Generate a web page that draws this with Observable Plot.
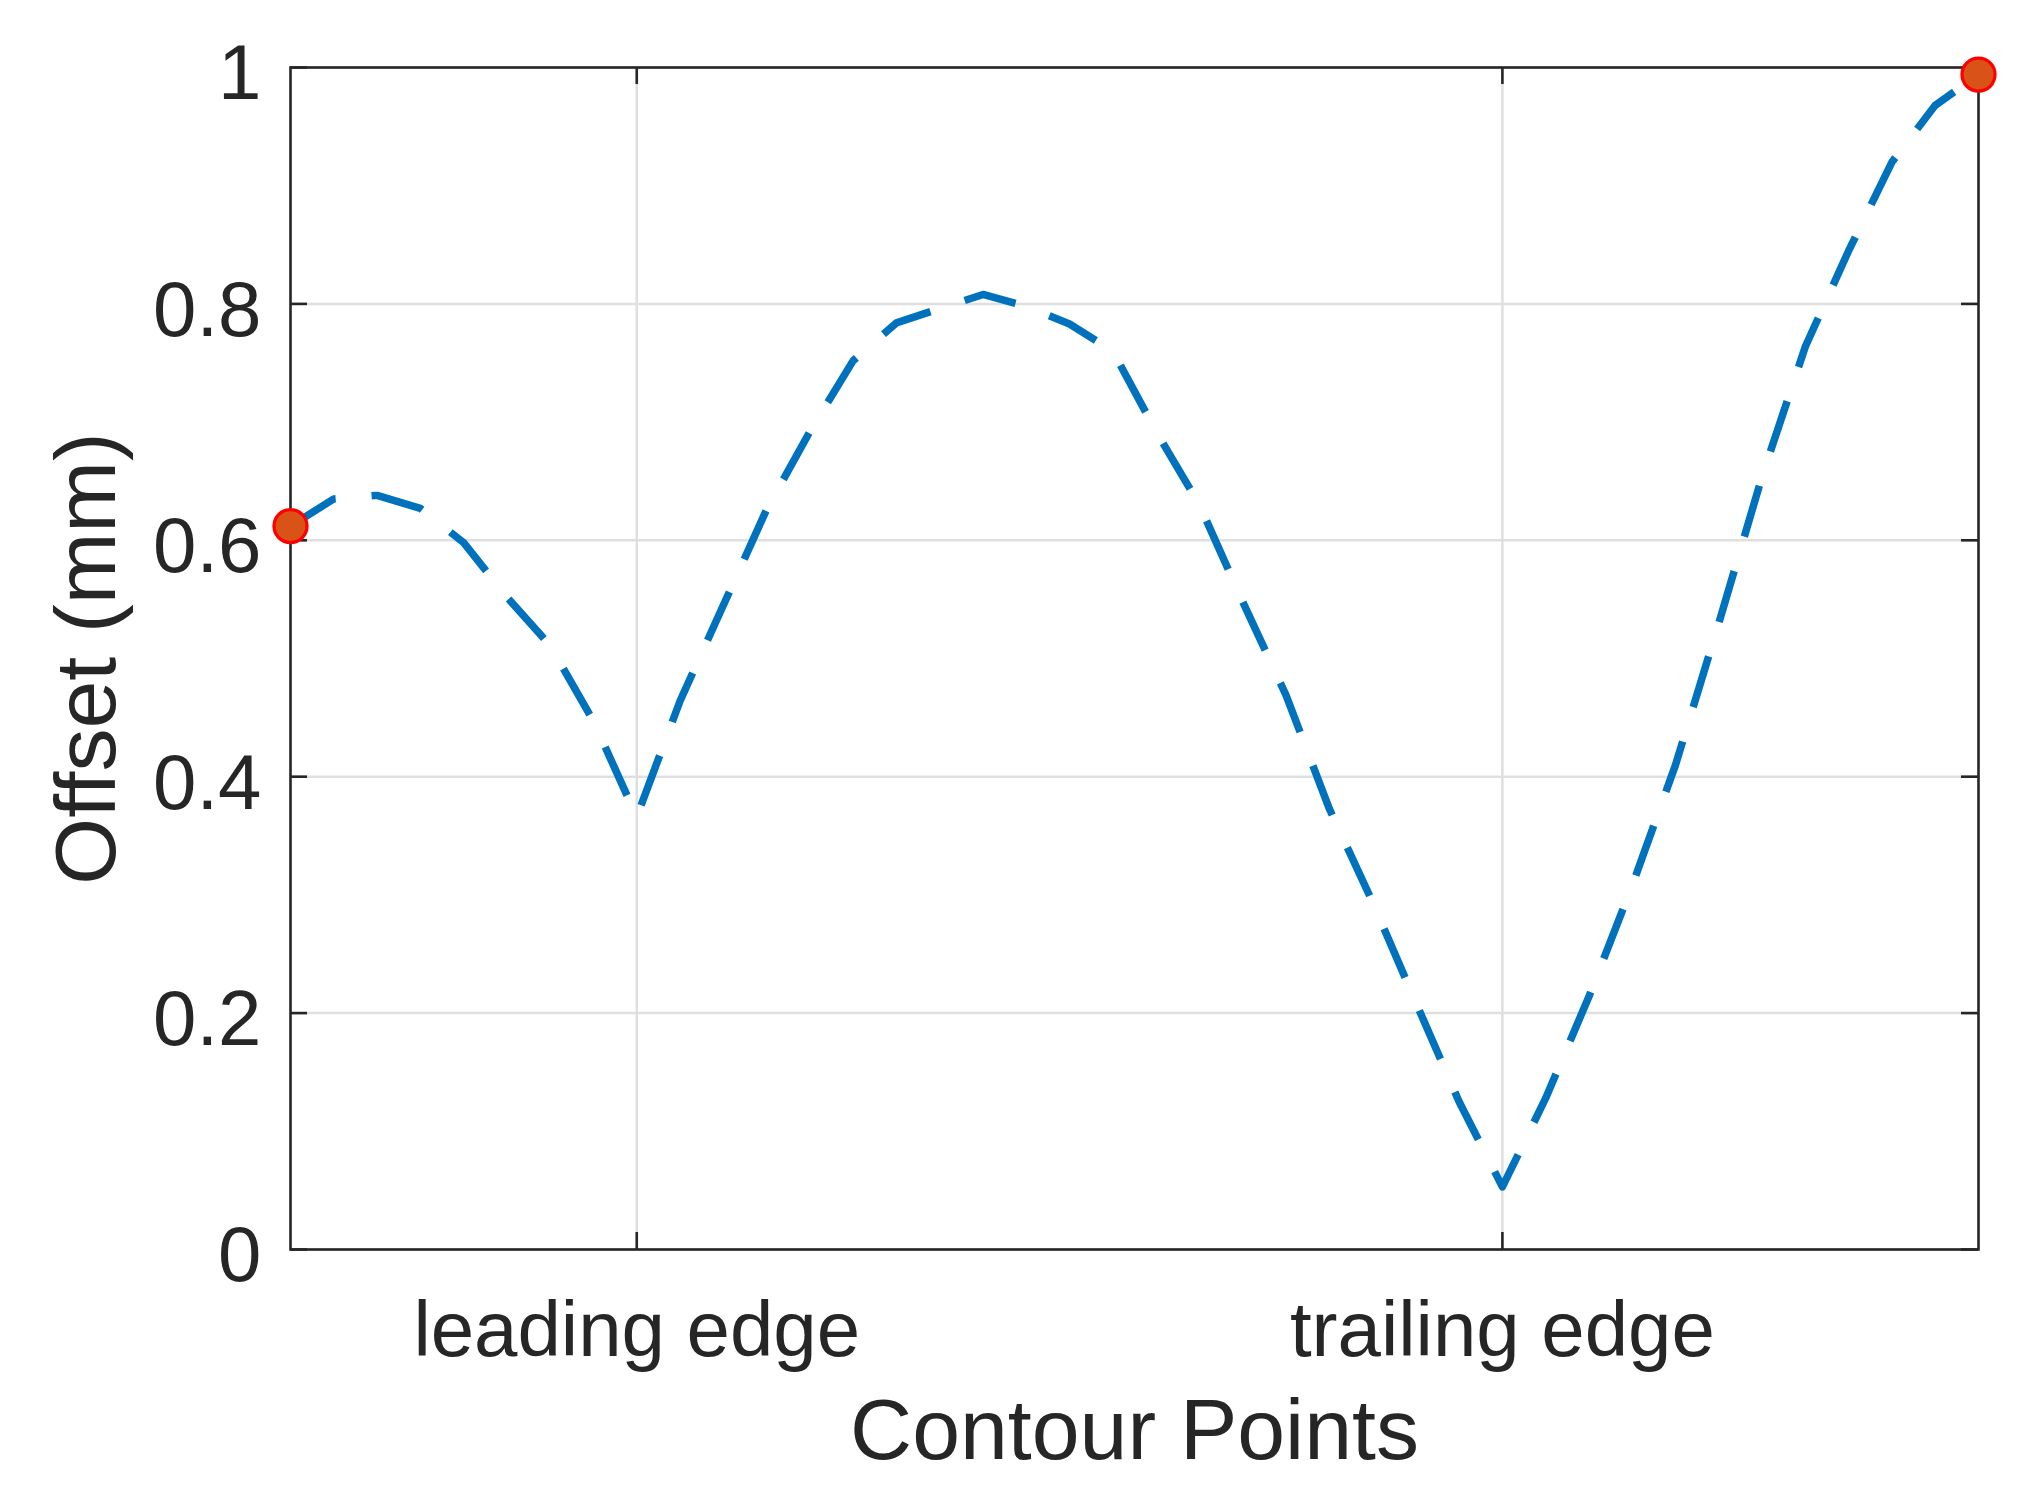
<!DOCTYPE html>
<html>
<head>
<meta charset="utf-8">
<script src="https://cdn.jsdelivr.net/npm/d3@7"></script>
<script src="https://cdn.jsdelivr.net/npm/@observablehq/plot@0.6"></script>
<style>
  html, body { margin: 0; padding: 0; background: #ffffff; overflow: hidden; }
  #chart svg { display: block; }
</style>
</head>
<body>
<div id="chart"></div>
<script>
// ---- data ----
const pointIndex = [1, 2, 3, 4, 5, 6, 7, 8, 9, 10,
                    11, 12, 13, 14, 15, 16, 17, 18, 19, 20,
                    21, 22, 23, 24, 25, 26, 27, 28, 29, 30,
                    31, 32, 33, 34, 35, 36, 37, 38, 39, 40];
const offsetMm = [0.612, 0.635, 0.638, 0.627, 0.598, 0.552, 0.511, 0.447, 0.366, 0.464,
                  0.545, 0.626, 0.692, 0.752, 0.784, 0.796, 0.808, 0.798, 0.783, 0.760,
                  0.692, 0.630, 0.548, 0.469, 0.373, 0.294, 0.209, 0.125, 0.053, 0.128,
                  0.214, 0.308, 0.410, 0.530, 0.654, 0.764, 0.845, 0.920, 0.968, 0.994];
const endpointIndex = [1, 40];
const xTickPositions = [9, 29];
const xTickLabels = ["leading edge", "trailing edge"];
const yTickValues = [0, 0.2, 0.4, 0.6, 0.8, 1];
const yTickLabels = ["0", "0.2", "0.4", "0.6", "0.8", "1"];
const xLabel = "Contour Points";
const yLabel = "Offset (mm)";

// ---- layout / style ----
const W = 2030, H = 1493;
const mL = 290, mR = 52, mT = 67, mB = 244;
const innerW = W - mL - mR, innerH = H - mT - mB;
const tickLen = 17;
const axisColor = "#262626";
const gridColor = "#dfdfdf";
const font = "'Liberation Sans', Arial, Helvetica, sans-serif";

const data = pointIndex.map((x, i) => ({x, y: offsetMm[i]}));
const endpoints = data.filter(d => endpointIndex.includes(d.x));

const chart = Plot.plot({
  width: W,
  height: H,
  marginLeft: mL,
  marginRight: mR,
  marginTop: mT,
  marginBottom: mB,
  style: {background: "#ffffff", color: axisColor, fontFamily: font, fontSize: "78px"},
  x: {domain: [1, 40]},
  y: {domain: [0, 1]},
  marks: [
    // grid
    Plot.ruleX(xTickPositions, {stroke: gridColor, strokeWidth: 2.5}),
    Plot.ruleY(yTickValues, {stroke: gridColor, strokeWidth: 2.5}),
    // data line
    Plot.line(data, {x: "x", y: "y", stroke: "#0072BD", strokeWidth: 7.5,
      strokeDasharray: "53,36", strokeLinecap: "butt", strokeLinejoin: "round"}),
    // box
    Plot.frame({stroke: axisColor, strokeWidth: 2.6}),
    // inward ticks (bottom, top, left, right)
    Plot.ruleX(xTickPositions, {stroke: axisColor, strokeWidth: 2.6, insetTop: innerH - tickLen}),
    Plot.ruleX(xTickPositions, {stroke: axisColor, strokeWidth: 2.6, insetBottom: innerH - tickLen}),
    Plot.ruleY(yTickValues, {stroke: axisColor, strokeWidth: 2.6, insetRight: innerW - tickLen}),
    Plot.ruleY(yTickValues, {stroke: axisColor, strokeWidth: 2.6, insetLeft: innerW - tickLen}),
    // end markers
    Plot.dot(endpoints, {x: "x", y: "y", r: 16.5, fill: "#D95319", stroke: "#FF0000", strokeWidth: 3.3}),
    // tick labels
    Plot.axisX({ticks: xTickPositions, tickFormat: d => xTickLabels[xTickPositions.indexOf(d)],
      tickSize: 0, tickPadding: 51, fontSize: 78, label: null}),
    Plot.axisY({ticks: yTickValues, tickFormat: d => yTickLabels[yTickValues.indexOf(d)],
      tickSize: 0, tickPadding: 29, fontSize: 78, dy: 7, label: null}),
    // axis titles
    Plot.text([xLabel], {frameAnchor: "bottom", dy: 209, lineAnchor: "bottom",
      textAnchor: "middle", fontSize: 86, fill: axisColor}),
    Plot.text([yLabel], {frameAnchor: "left", dx: -176, rotate: -90, lineAnchor: "bottom",
      textAnchor: "middle", fontSize: 86, fill: axisColor})
  ]
});

document.getElementById("chart").appendChild(chart);
</script>
</body>
</html>
